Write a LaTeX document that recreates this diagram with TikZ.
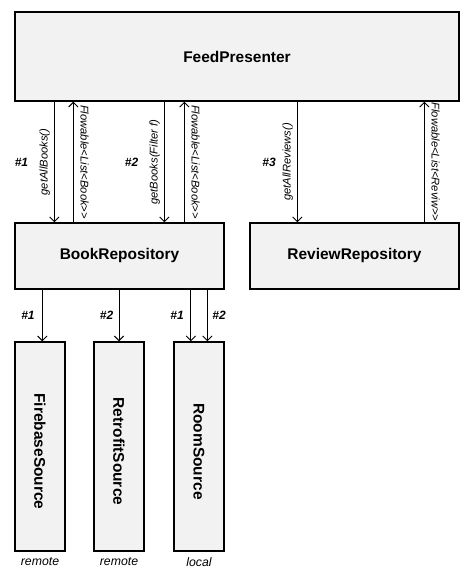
\documentclass[tikz,border=0pt]{standalone}
\usepackage{fontspec}
\setmainfont{Liberation Sans}[Ligatures=TeXOff]
\usetikzlibrary{calc,arrows.meta}
\tikzset{
  box/.style={draw=black, line width=1pt, fill=gray!10, inner sep=0pt, font=\fontsize{11.6}{14}\selectfont\bfseries},
  call/.style={line width=0.75pt, -{Straight Barb[length=3.5pt,width=7pt]}},
  sig/.style={inner sep=3pt, font=\fontsize{8.4}{10}\selectfont\itshape},
  ret/.style={sig, inner sep=5pt},
  tag/.style={inner sep=0pt, font=\fontsize{9}{11}\selectfont\bfseries\itshape},
  place/.style={anchor=north, inner sep=4pt, font=\fontsize{9.2}{11}\selectfont\itshape}
}
\begin{document}
\begin{tikzpicture}[x=0.75pt, y=-0.75pt]
  \useasboundingbox (0,0) rectangle (474,577);
  \node[box, minimum width=333pt, minimum height=66.75pt] (feed) at (237,56.5) {FeedPresenter};
  \node[box, minimum width=156.75pt, minimum height=49.5pt] (book) at (119.5,256) {BookRepository};
  \node[box, minimum width=156.75pt, minimum height=49.5pt] (review) at (354.5,256) {ReviewRepository};
  \node[box, minimum width=37.5pt, minimum height=156.75pt] (firebase) at (40,446.5) {\rotatebox{-90}{\hspace{7.5pt}FirebaseSource}};
  \node[box, minimum width=37.5pt, minimum height=156.75pt] (retrofit) at (119,446.5) {\rotatebox{-90}{\hspace{7.5pt}RetrofitSource}};
  \node[box, minimum width=37.5pt, minimum height=156.75pt] (room) at (199,446.5) {\rotatebox{-90}{\hspace{7.5pt}RoomSource}};
  \coordinate (d1) at ($(book.north west)+(40,0)$);
  \coordinate (u1) at ($(book.north west)+(59,0)$);
  \coordinate (d2) at ($(book.north west)+(150,0)$);
  \coordinate (u2) at ($(book.north west)+(170,0)$);
  \coordinate (d3) at ($(review.north west)+(48,0)$);
  \coordinate (u3) at ($(review.north west)+(175,0)$);
  \draw[call] (d1 |- feed.south) -- (d1) node[sig, midway, anchor=south, rotate=90] (s1) {getAllBooks()};
  \draw[call] (u1) -- (u1 |- feed.south) node[ret, midway, anchor=south, rotate=-90] (r1) {Flowable<List<Book>>};
  \draw[call] (d2 |- feed.south) -- (d2) node[sig, midway, anchor=south, rotate=90] (s2) {getBooks(Filter f)};
  \draw[call] (u2) -- (u2 |- feed.south) node[ret, midway, anchor=south, rotate=-90] (r2) {Flowable<List<Book>>};
  \draw[call] (d3 |- feed.south) -- (d3) node[sig, midway, anchor=south, rotate=90] (s3) {getAllReviews()};
  \draw[call] (u3) -- (u3 |- feed.south) node[ret, midway, anchor=south, rotate=-90] (r3) {Flowable<List<Reviw>>};
  \draw[call] ($(book.south west)+(28,0)$) coordinate (b1) -- (b1 |- firebase.north);
  \draw[call] (book.south -| retrofit.north) -- (retrofit.north);
  \draw[call] ($(book.south west)+(176.5,0)$) coordinate (b3) -- (b3 |- room.north);
  \draw[call] ($(book.south west)+(193,0)$) coordinate (b4) -- (b4 |- room.north);
  \node[tag] (t1) at (21.5,162) {\#1};
  \node[tag] (t2) at (131.5,162) {\#2};
  \node[tag] (t3) at (269,162) {\#3};
  \node[tag] (t4) at (28,315) {\#1};
  \node[tag] (t5) at (106.5,315) {\#2};
  \node[tag] (t6) at (177,315) {\#1};
  \node[tag] (t7) at (219,315) {\#2};
  \node[place] (p1) at (firebase.south) {remote};
  \node[place] (p2) at (retrofit.south) {remote};
  \node[place] (p3) at (room.south) {local};
\end{tikzpicture}
\end{document}
